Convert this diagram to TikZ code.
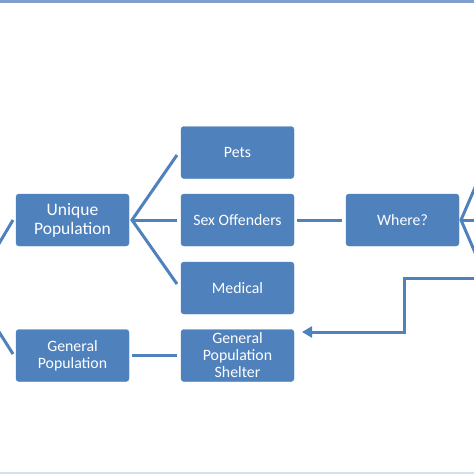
\documentclass[tikz,border=0pt]{standalone}
\usepackage{fontspec}
\setmainfont{Carlito}
\usetikzlibrary{arrows.meta}
\definecolor{boxblue}{HTML}{4F81BD}
\definecolor{topline}{HTML}{7E9ECD}
\definecolor{botline}{HTML}{D3E0F0}
\tikzset{
  box/.style={draw=boxblue, fill=boxblue, rounded corners=3pt, minimum width=113pt,
    minimum height=52pt, inner sep=0pt, text=white, align=center,
    font=\fontsize{15.8}{17}\selectfont},
  conn/.style={draw=boxblue, line width=3pt},
  arr/.style={conn, -{Triangle[length=10pt,width=11pt]}}
}
\begin{document}
\begin{tikzpicture}[x=1pt,y=-1pt]
\useasboundingbox (0,0) rectangle (474,474);
\clip (0,0) rectangle (474,474);
\fill[white] (0,0) rectangle (474,474);
\fill[topline] (0,0) rectangle (474,2.5);
\fill[botline] (0,471.5) rectangle (474,474);

\node[box, font=\fontsize{17.5}{19}\selectfont] (uniq) at (72.5,220) {Unique\\Population};
\node[box] (genpop) at (72.5,355.5) {General\\Population};
\node[box] (pets) at (237.5,152.5) {Pets};
\node[box] (sex) at (237.5,220) {Sex Offenders};
\node[box] (med) at (237.5,288) {Medical};
\node[box] (shelter) at (237.5,355.5) {General\\Population\\Shelter};
\node[box] (where) at (402.5,220) {Where?};

\coordinate (ufan) at (132,220);
\coordinate (pin) at (177,155);
\coordinate (sin) at (177,220);
\coordinate (min) at (177,284);
\draw[conn] (pin) -- (ufan) -- (min);
\draw[conn] (ufan) -- (sin);

\coordinate (sout) at (297,220);
\coordinate (win) at (342,220);
\draw[conn] (sout) -- (win);

\coordinate (shout) at (177,355);
\coordinate (gpin) at (132,355);
\draw[conn] (shout) -- (gpin);

\coordinate (wfan) at (461,220);
\coordinate (r1) at (480,176);
\coordinate (r2) at (480,220);
\coordinate (r3) at (480,264);
\draw[conn] (r1) -- (wfan) -- (r3);
\draw[conn] (wfan) -- (r2);

\coordinate (l1) at (-6,252);
\coordinate (l1e) at (13,220);
\coordinate (l2) at (-6,324);
\coordinate (l2e) at (13,354);
\draw[conn] (l1) -- (l1e);
\draw[conn] (l2) -- (l2e);

\coordinate (rin) at (480,278);
\coordinate (bend1) at (404,278);
\coordinate (bend2) at (404,332);
\coordinate (tip) at (302,332);
\draw[arr] (rin) -- (bend1) -- (bend2) -- (tip);
\end{tikzpicture}
\end{document}
